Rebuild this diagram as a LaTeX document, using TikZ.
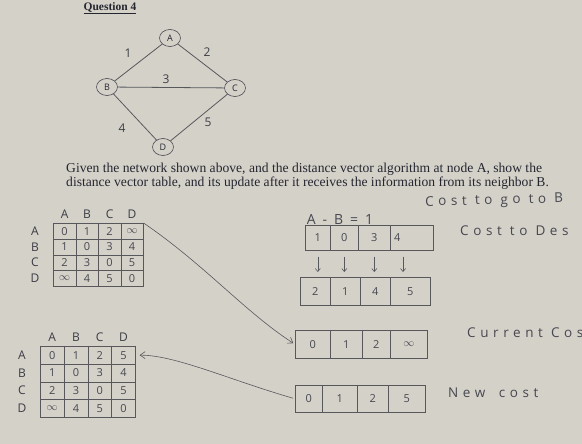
\documentclass[tikz,border=0pt]{standalone}
\usepackage{fontspec}
\setmainfont{Liberation Serif}
\newfontfamily\hand[LetterSpace=22]{Open Sans}
\newfontfamily\handwide[LetterSpace=34]{Open Sans}
\usetikzlibrary{shapes.geometric,arrows.meta,calc}
\definecolor{paper}{RGB}{212,209,201}
\definecolor{pencil}{RGB}{88,88,92}
\definecolor{ink}{RGB}{38,38,48}
\begin{document}
\begin{tikzpicture}[x=1pt,y=-1pt,
  gnode/.style={ellipse, draw=ink!85, line width=0.6pt, minimum width=21pt, minimum height=17pt, inner sep=0pt, font=\hand\fontsize{9}{9}\selectfont, text=ink},
  gedge/.style={draw=pencil, line width=0.8pt},
  elab/.style={font=\hand\fontsize{12}{12}\selectfont, text=ink!90, inner sep=0pt},
  hw/.style={font=\hand\fontsize{11}{11}\selectfont, text=ink!85},
  hlab/.style={font=\hand\fontsize{12}{12}\selectfont, text=ink!90, inner sep=0pt},
  note/.style={font=\handwide\fontsize{13.5}{13.5}\selectfont, text=ink!85, inner sep=0pt, anchor=west},
  para/.style={font=\fontsize{13.6}{14}\selectfont, text=ink, inner sep=0pt, anchor=west},
  cell/.style={draw=pencil, line width=0.6pt, inner sep=0pt, anchor=north west, hw},
  tcell/.style={cell, minimum width=22.5pt, minimum height=15.75pt},
  bcell/.style={cell, minimum width=23.75pt, minimum height=17.75pt},
  harrow/.style={draw=pencil, line width=0.6pt, -{Straight Barb[length=5pt,width=7pt]}},
  sarrow/.style={draw=pencil, line width=0.6pt, -{Straight Barb[length=3pt,width=5pt]}, shorten <=6pt, shorten >=5pt}
]
\fill[paper] (0,0) rectangle (582,444);
\useasboundingbox (0,0) rectangle (582,444);

% title
\node[font=\bfseries\fontsize{11.5}{12}\selectfont, text=ink, inner sep=0pt] (title) at (110,8) {\underline{Question 4}};

% network
\node[gnode] (A) at (170,38) {A};
\node[gnode] (B) at (107,87) {B};
\node[gnode] (C) at (235,88) {C};
\node[gnode] (D) at (163,147) {D};
\draw[gedge] (B) -- (A);
\draw[gedge] (A) -- (C);
\draw[gedge] (B) -- (C);
\draw[gedge] (B) -- (D);
\draw[gedge] (D) -- (C);
\node[elab] (l1) at (128,53) {1};
\node[elab] (l2) at (207,52) {2};
\node[elab] (l3) at (166,79) {3};
\node[elab] (l4) at (122,128) {4};
\node[elab] (l5) at (208,122) {5};

% question text
\node[para] (q1t) at (66,169) {Given the network shown above, and the distance vector algorithm at node A, show the};
\node[para] (q2t) at (66,183) {distance vector table, and its update after it receives the information from its neighbor B.};

% top table
\foreach \row [count=\i] in {{0,1,2,$\infty$},{1,0,3,4},{2,3,0,5},{$\infty$,4,5,0}} {
  \foreach \v [count=\j] in \row {
    \node[tcell] (t\i\j) at ({53+(\j-1)*22.5},{223+(\i-1)*15.75}) {\v};
  }
}
\foreach \L [count=\j] in {A,B,C,D} {
  \node[hlab] (th\j) at ([yshift=9pt]t1\j.north) {\L};
  \node[hlab] (tr\j) at ({35},{231+(\j-1)*15.75}) {\L};
}

% bottom table
\foreach \row [count=\i] in {{0,1,2,5},{1,0,3,4},{2,3,0,5},{$\infty$,4,5,0}} {
  \foreach \v [count=\j] in \row {
    \node[bcell] (b\i\j) at ({40+(\j-1)*23.75},{346+(\i-1)*17.75}) {\v};
  }
}
\foreach \L [count=\j] in {A,B,C,D} {
  \node[hlab] (bh\j) at ([yshift=9pt]b1\j.north) {\L};
  \node[hlab] (br\j) at ({22},{355+(\j-1)*17.75}) {\L};
}

% right side
\node[font=\hand\fontsize{14}{14}\selectfont, text=ink!85, inner sep=0pt] (ab) at (340,219) {A\enspace-\enspace B\enspace=\enspace 1};
\node[note, rotate=1.5] (n1) at (425,203) {Cost to go to B};
\node[note] (n2) at (460,231) {Cost to Des};
\node[note] (n3) at (467,333) {Current Cos};
\node[note] (n4) at (448,393) {New\quad cost};

% row 1
\node[cell, minimum width=25pt, minimum height=25pt] (p1) at (305,225) {1};
\node[cell, minimum width=28pt, minimum height=25pt] (p2) at (330,225) {0};
\node[cell, minimum width=32pt, minimum height=25pt] (p3) at (358,225) {3};
\node[cell, minimum width=43pt, minimum height=25pt, text width=39pt, align=left] (p4) at (390,225) {\,4};
% row 2
\node[cell, minimum width=30pt, minimum height=28pt] (q1) at (300,277) {2};
\node[cell, minimum width=30pt, minimum height=28pt] (q2) at (330,277) {1};
\node[cell, minimum width=30pt, minimum height=28pt] (q3) at (360,277) {4};
\node[cell, minimum width=40pt, minimum height=28pt] (q4) at (390,277) {5};
% row 3
\node[cell, minimum width=35pt, minimum height=28pt] (r1) at (295,330) {0};
\node[cell, minimum width=32pt, minimum height=28pt] (r2) at (330,330) {1};
\node[cell, minimum width=28pt, minimum height=28pt] (r3) at (362,330) {2};
\node[cell, minimum width=37pt, minimum height=28pt] (r4) at (390,330) {$\infty$};
% row 4
\node[cell, minimum width=27pt, minimum height=27pt] (s1) at (295,385) {0};
\node[cell, minimum width=35pt, minimum height=27pt] (s2) at (322,385) {1};
\node[cell, minimum width=31pt, minimum height=27pt] (s3) at (357,385) {2};
\node[cell, minimum width=37pt, minimum height=27pt] (s4) at (388,385) {5};

% small down arrows
\draw[sarrow] (p1.south) -- (p1.south |- q1.north);
\draw[sarrow] (p2.south) -- (p2.south |- q2.north);
\draw[sarrow] (p3.south) -- (p3.south |- q3.north);
\coordinate (p4a) at ($(p4.south west)!0.3!(p4.south east)$);
\draw[sarrow] (p4a) -- (p4a |- q4.north);

% long arrows
\draw[harrow, shorten >=2pt] (t14.north east) .. controls (205,265) and (245,312) .. (r1.west);
\draw[harrow, shorten <=2pt, shorten >=4pt] (s1.west) .. controls (230,380) and (175,355) .. (b14.east);
\end{tikzpicture}
\end{document}
